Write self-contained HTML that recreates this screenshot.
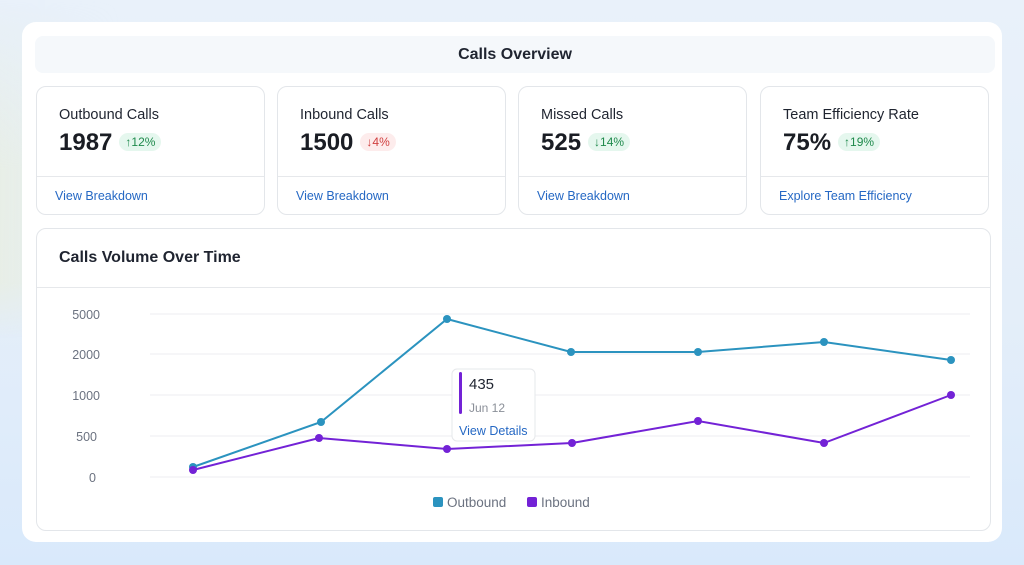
<!DOCTYPE html>
<html><head><style>
*{box-sizing:border-box;margin:0;padding:0}
body{width:1024px;height:565px;overflow:hidden;font-family:"Liberation Sans",sans-serif;background:linear-gradient(180deg,#e9f1fa 0%,#e4eef9 55%,#d9e9fb 100%);position:relative}
.bg2{position:absolute;left:0;top:0;width:120px;height:565px;background:linear-gradient(90deg,rgba(232,238,226,.8),rgba(232,238,226,0));-webkit-mask:linear-gradient(180deg,transparent 0%,#000 30%,#000 50%,transparent 60%)}
.main{position:absolute;left:22px;top:22px;width:980px;height:520px;background:#fff;border-radius:14px}
.hdr{position:absolute;left:35px;top:36px;width:960px;height:37px;background:#f5f8fb;border-radius:8px;text-align:center;line-height:37px;font-size:16px;font-weight:bold;color:#1f2430}
.card{position:absolute;top:86px;width:229px;height:129px;border:1px solid #e3e6ea;border-radius:10px;background:#fff}
.card .l{position:absolute;left:22px;top:20px;font-size:14.5px;color:#1f2430}
.card .n{position:absolute;left:22px;top:42px;font-size:24px;font-weight:bold;color:#1a1d24}
.card .b{display:inline-block;font-size:12px;font-weight:normal;padding:2px 6px;border-radius:9px;vertical-align:4px;margin-left:7px}
.up{background:#e5f7ee;color:#1f8a4c}.dn{background:#fdecec;color:#d04040}
.card .d{position:absolute;left:0;right:0;top:89px;border-top:1px solid #e6e8eb}
.card .k{position:absolute;left:18px;top:102px;font-size:12.5px;color:#2568c4}
.cc{position:absolute;left:36px;top:228px;width:955px;height:303px;border:1px solid #e3e6ea;border-radius:10px}
.cc .t{position:absolute;left:22px;top:20px;font-size:16px;font-weight:bold;color:#1f2430}
.cc .d{position:absolute;left:0;right:0;top:58px;border-top:1px solid #e6e8eb}
</style></head><body>
<div class="bg2"></div>
<div class="main"></div>
<div class="hdr">Calls Overview</div>
<div class="card" style="left:36px"><div class="l">Outbound Calls</div><div class="n">1987<span class="b up">↑12%</span></div><div class="d"></div><div class="k">View Breakdown</div></div>
<div class="card" style="left:277px"><div class="l">Inbound Calls</div><div class="n">1500<span class="b dn">↓4%</span></div><div class="d"></div><div class="k">View Breakdown</div></div>
<div class="card" style="left:518px"><div class="l">Missed Calls</div><div class="n">525<span class="b up">↓14%</span></div><div class="d"></div><div class="k">View Breakdown</div></div>
<div class="card" style="left:760px"><div class="l">Team Efficiency Rate</div><div class="n">75%<span class="b up">↑19%</span></div><div class="d"></div><div class="k">Explore Team Efficiency</div></div>
<div class="cc"><div class="t">Calls Volume Over Time</div><div class="d"></div></div>
<svg style="position:absolute;left:0;top:0" width="1024" height="565" font-family="Liberation Sans, sans-serif">
<g stroke="#eceef1" stroke-width="1">
<line x1="150" x2="970" y1="314" y2="314"/><line x1="150" x2="970" y1="354" y2="354"/><line x1="150" x2="970" y1="395" y2="395"/><line x1="150" x2="970" y1="436" y2="436"/><line x1="150" x2="970" y1="477" y2="477"/>
</g>
<g font-size="12.5" fill="#6b7280" text-anchor="end">
<text x="100" y="319">5000</text><text x="100" y="359">2000</text><text x="100" y="400">1000</text><text x="97" y="441">500</text><text x="96" y="482">0</text>
</g>
<polyline fill="none" stroke="#2b93bf" stroke-width="2" points="193,467 321,422 447,319 571,352 698,352 824,342 951,360"/>
<g fill="#2b93bf"><circle cx="193" cy="467" r="4"/><circle cx="321" cy="422" r="4"/><circle cx="447" cy="319" r="4"/><circle cx="571" cy="352" r="4"/><circle cx="698" cy="352" r="4"/><circle cx="824" cy="342" r="4"/><circle cx="951" cy="360" r="4"/></g>
<polyline fill="none" stroke="#7322d6" stroke-width="2" points="193,470 319,438 447,449 572,443 698,421 824,443 951,395"/>
<g fill="#7322d6"><circle cx="193" cy="470" r="4"/><circle cx="319" cy="438" r="4"/><circle cx="447" cy="449" r="4"/><circle cx="572" cy="443" r="4"/><circle cx="698" cy="421" r="4"/><circle cx="824" cy="443" r="4"/><circle cx="951" cy="395" r="4"/></g>
<rect x="452" y="369" width="83" height="72" rx="5" fill="#fff" stroke="#e6e8eb"/>
<rect x="459" y="372" width="3" height="42" rx="1.5" fill="#7322d6"/>
<text x="469" y="389" font-size="15" fill="#1f2430">435</text>
<text x="469" y="412" font-size="12" fill="#8a8f98">Jun 12</text>
<text x="459" y="435" font-size="12.5" fill="#2568c4">View Details</text>
<rect x="433" y="497" width="10" height="10" rx="2" fill="#2b93bf"/>
<text x="447" y="507" font-size="13.5" fill="#6b7280">Outbound</text>
<rect x="527" y="497" width="10" height="10" rx="2" fill="#7322d6"/>
<text x="541" y="507" font-size="13.5" fill="#6b7280">Inbound</text>
</svg>
</body></html>
